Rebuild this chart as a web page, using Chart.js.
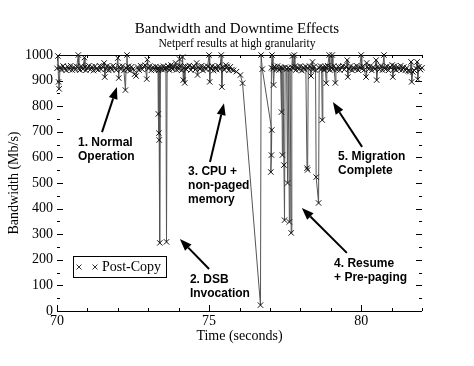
<!DOCTYPE html>
<html><head><meta charset="utf-8">
<script src="https://cdn.jsdelivr.net/npm/chart.js@4.4.1/dist/chart.umd.min.js"></script>
<style>html,body{margin:0;padding:0;background:#fff;}canvas{display:block;}</style>
</head><body>
<canvas id="c" width="474" height="366"></canvas>
<script>
// ---- data (time in seconds, bandwidth in Mb/s) ----
const timeSec = [
  70.00,70.03,70.05,70.07,70.10,70.15,70.20,70.25,70.30,70.35,70.40,70.45,70.50,70.55,70.60,70.65,70.70,70.72,70.75,70.80,
  70.85,70.90,70.92,70.95,71.00,71.05,71.10,71.15,71.20,71.25,71.30,71.35,71.40,71.45,71.50,71.55,71.57,71.60,71.65,71.70,
  71.75,71.80,71.85,71.90,71.95,72.00,72.03,72.05,72.10,72.15,72.20,72.25,72.27,72.30,72.32,72.35,72.40,72.45,72.50,72.55,
  72.60,72.65,72.70,72.75,72.80,72.85,72.90,72.95,72.97,73.00,73.05,73.10,73.15,73.20,73.25,73.30,73.32,73.33,73.34,73.35,
  73.36,73.37,73.38,73.40,73.45,73.50,73.55,73.58,73.60,73.62,73.65,73.70,73.75,73.77,73.80,73.85,73.90,73.93,73.95,74.00,
  74.03,74.05,74.10,74.13,74.15,74.18,74.20,74.22,74.25,74.30,74.35,74.40,74.45,74.50,74.55,74.59,74.62,74.65,74.70,74.75,
  74.80,74.85,74.90,74.95,75.00,75.02,75.05,75.10,75.15,75.20,75.25,75.30,75.35,75.40,75.42,75.45,75.50,75.55,75.57,75.60,
  75.65,75.70,75.75,75.80,75.90,76.03,76.10,76.69,76.71,76.75,77.06,77.05,77.03,77.05,77.07,77.10,77.12,77.15,77.20,77.25,
  77.30,77.35,77.38,77.39,77.41,77.43,77.46,77.48,77.50,77.55,77.58,77.60,77.64,77.66,77.70,77.72,77.74,77.76,77.80,77.82,
  77.85,77.90,77.95,78.00,78.05,78.10,78.15,78.18,78.22,78.24,78.26,78.30,78.35,78.37,78.40,78.42,78.45,78.50,78.52,78.60,
  78.62,78.66,78.70,78.72,78.74,78.78,78.82,78.85,78.87,78.90,78.95,78.97,79.00,79.05,79.07,79.10,79.15,79.17,79.20,79.25,
  79.30,79.35,79.40,79.45,79.50,79.54,79.56,79.60,79.65,79.70,79.75,79.80,79.85,79.90,79.95,80.00,80.02,80.05,80.10,80.16,
  80.18,80.20,80.25,80.30,80.35,80.40,80.45,80.49,80.51,80.55,80.60,80.65,80.70,80.75,80.77,80.80,80.85,80.90,80.95,81.02,
  81.04,81.07,81.10,81.15,81.20,81.25,81.30,81.35,81.40,81.45,81.50,81.55,81.60,81.64,81.66,81.70,81.75,81.80,81.84,81.86,
  81.90,81.95,82.00
];
const bandwidthMbps = [
  948,996,895,868,952,942,957,946,940,955,944,958,941,953,943,955,1000,947,941,957,
  945,990,953,940,950,958,943,954,939,956,946,942,958,944,954,969,914,945,957,940,
  953,943,958,947,941,988,910,955,944,957,940,863,950,1000,943,956,939,954,945,925,
  918,953,941,958,944,955,960,906,982,947,957,940,953,943,955,945,950,770,940,695,
  668,945,266,953,943,956,945,952,270,947,957,941,961,950,944,955,969,942,954,945,
  984,958,940,992,902,950,891,956,944,954,959,941,952,957,943,969,922,953,945,958,
  940,954,944,956,1000,895,947,957,939,953,943,958,945,1000,875,954,942,961,950,956,
  940,954,943,940,935,922,890,23,1000,945,707,609,543,950,1000,946,883,955,943,957,
  941,953,777,950,609,948,570,355,952,945,500,950,348,946,305,952,996,948,1000,955,
  941,953,944,957,939,952,943,955,558,551,948,957,918,950,973,943,954,941,523,422,
  950,957,945,746,953,942,955,890,947,958,1000,941,954,1000,944,957,891,947,943,955,
  941,953,958,943,954,980,914,945,957,940,952,944,958,941,953,1000,946,956,942,914,
  969,954,944,957,940,953,945,980,902,955,943,958,941,1000,950,944,956,940,953,961,
  914,945,957,941,954,944,958,942,953,940,950,938,935,973,895,934,940,948,973,905,
  954,943,950
];
const seriesName = 'Post-Copy';
const chartTitle = 'Bandwidth and Downtime Effects';
const chartSubtitle = 'Netperf results at high granularity';
const xAxisTitle = 'Time (seconds)';
const yAxisTitle = 'Bandwidth (Mb/s)';

// annotations (text lines, text anchor, arrow tail, arrow tip) in data units
const noteLines = [['1. Normal','Operation'],['2. DSB','Invocation'],['3. CPU +','non-paged','memory'],['4. Resume','+ Pre-paging'],['5. Migration','Complete']];
const noteTextAt = [[70.69,656],[74.37,121],[74.31,543],[79.11,184],[79.24,602]];
const noteArrowFrom = [[71.48,699],[75.00,164],[75.03,582],[79.53,227],[80.03,641]];
const noteArrowTo = [[71.97,875],[74.04,281],[75.49,812],[78.05,402],[79.07,816]];

const SERIF = '"Liberation Serif","Times New Roman",serif';
const SANS = '"Liberation Sans",Arial,sans-serif';
Chart.defaults.color = '#000';

const framePlugin = {
  id: 'frame',
  beforeDatasetsDraw(chart) {
    const {ctx, chartArea: a, scales: {x, y}} = chart;
    ctx.save();
    ctx.strokeStyle = '#000';
    ctx.lineWidth = 1;
    ctx.beginPath();
    ctx.moveTo(a.left, Math.round(a.bottom) + 0.5); ctx.lineTo(a.right, Math.round(a.bottom) + 0.5);
    ctx.moveTo(a.left, Math.round(a.top) + 0.5); ctx.lineTo(a.right, Math.round(a.top) + 0.5);
    for (let v = Math.ceil(x.min); v <= x.max; v += 1) {
      const px = Math.round(x.getPixelForValue(v)) + 0.5;
      const len = (v % 5 === 0) ? 6 : 3;
      ctx.moveTo(px, a.bottom); ctx.lineTo(px, a.bottom - len);
      ctx.moveTo(px, a.top); ctx.lineTo(px, a.top + len);
    }
    for (let v = y.min; v <= y.max; v += 50) {
      const py = Math.round(y.getPixelForValue(v)) + 0.5;
      const len = (v % 100 === 0) ? 6 : 3;
      ctx.moveTo(a.left, py); ctx.lineTo(a.left + len, py);
      ctx.moveTo(a.right, py); ctx.lineTo(a.right - len, py);
    }
    ctx.stroke();
    ctx.restore();
  },
  afterDraw(chart) {
    const {ctx, chartArea: a, scales: {x, y}} = chart;
    ctx.save();
    ctx.fillStyle = '#000';
    ctx.strokeStyle = '#000';
    ctx.font = 'bold 12px ' + SANS;
    ctx.textAlign = 'left';
    ctx.textBaseline = 'middle';
    noteLines.forEach((lines, i) => {
      const tx = x.getPixelForValue(noteTextAt[i][0]);
      const ty = y.getPixelForValue(noteTextAt[i][1]);
      lines.forEach((s, k) => ctx.fillText(s, tx, ty + k * 13.6));
      const x0 = x.getPixelForValue(noteArrowFrom[i][0]), y0 = y.getPixelForValue(noteArrowFrom[i][1]);
      const x1 = x.getPixelForValue(noteArrowTo[i][0]), y1 = y.getPixelForValue(noteArrowTo[i][1]);
      const ang = Math.atan2(y1 - y0, x1 - x0);
      const hl = 12, hw = 4.5;
      const bx = x1 - Math.cos(ang) * hl, by = y1 - Math.sin(ang) * hl;
      ctx.lineWidth = 2;
      ctx.beginPath(); ctx.moveTo(x0, y0); ctx.lineTo(bx, by); ctx.stroke();
      ctx.beginPath();
      ctx.moveTo(x1, y1);
      ctx.lineTo(bx + Math.sin(ang) * hw, by - Math.cos(ang) * hw);
      ctx.lineTo(bx - Math.sin(ang) * hw, by + Math.cos(ang) * hw);
      ctx.closePath(); ctx.fill();
    });
    // legend box
    const lx = a.left + 16, ly = a.bottom - 55, lw = 93, lh = 21;
    ctx.lineWidth = 1;
    ctx.strokeRect(Math.round(lx) + 0.5, Math.round(ly) + 0.5, lw, lh);
    const my = ly + lh / 2 + 0.5;
    [lx + 6, lx + 22].forEach(mx => {
      ctx.beginPath();
      ctx.moveTo(mx - 2.5, my - 2.5); ctx.lineTo(mx + 2.5, my + 2.5);
      ctx.moveTo(mx - 2.5, my + 2.5); ctx.lineTo(mx + 2.5, my - 2.5);
      ctx.strokeStyle = '#333'; ctx.stroke();
    });
    ctx.fillStyle = '#000';
    ctx.font = '14px ' + SERIF;
    ctx.fillText(seriesName, lx + 29, my);
    ctx.restore();
  }
};

new Chart(document.getElementById('c'), {
  type: 'scatter',
  data: {
    datasets: [{
      label: seriesName,
      data: timeSec.map((t, i) => ({x: t, y: bandwidthMbps[i]})),
      showLine: true,
      borderColor: '#555',
      borderWidth: 1,
      tension: 0,
      pointStyle: 'crossRot',
      pointRadius: 3.8,
      pointBorderColor: '#111',
      pointBorderWidth: 1,
      pointBackgroundColor: '#111',
      clip: false,
      yAxisID: 'y'
    }]
  },
  options: {
    responsive: false,
    animation: false,
    devicePixelRatio: 1,
    layout: {padding: {left: 0, right: 0, top: 0, bottom: 0}},
    plugins: {
      legend: {display: false},
      tooltip: {enabled: false},
      title: {display: true, text: chartTitle, color: '#000',
        font: {family: SERIF, size: 15, weight: 'normal', lineHeight: 1},
        padding: {top: 21.5, bottom: 0}},
      subtitle: {display: true, text: chartSubtitle, color: '#000',
        font: {family: SERIF, size: 11.6, weight: 'normal', lineHeight: 1.2},
        padding: {top: 0, bottom: 4.6}}
    },
    scales: {
      x: {
        type: 'linear', min: 70, max: 82,
        grid: {display: false, drawTicks: false},
        border: {display: false},
        ticks: {stepSize: 5, includeBounds: false, padding: 2, maxRotation: 0, color: '#000',
          font: {family: SERIF, size: 14}},
        title: {display: true, text: xAxisTitle, color: '#000',
          font: {family: SERIF, size: 14}, padding: {top: 0, bottom: 21.6}},
        afterFit(s) { s.height = 55; }
      },
      y: {
        type: 'linear', position: 'left', min: 0, max: 1000,
        grid: {display: false, drawTicks: false},
        border: {display: false},
        ticks: {stepSize: 100, padding: 4, color: '#000', font: {family: SERIF, size: 14},
          callback: (v) => String(v)},
        title: {display: true, text: yAxisTitle, color: '#000',
          font: {family: SERIF, size: 14}, padding: {top: 5.6, bottom: 0}},
        afterFit(s) { s.width = 57; }
      },
      yRight: {
        type: 'linear', position: 'right', min: 0, max: 1000,
        grid: {display: false, drawTicks: false},
        border: {display: false},
        ticks: {display: false},
        afterFit(s) { s.width = 52; }
      }
    }
  },
  plugins: [framePlugin]
});
</script>
</body></html>
